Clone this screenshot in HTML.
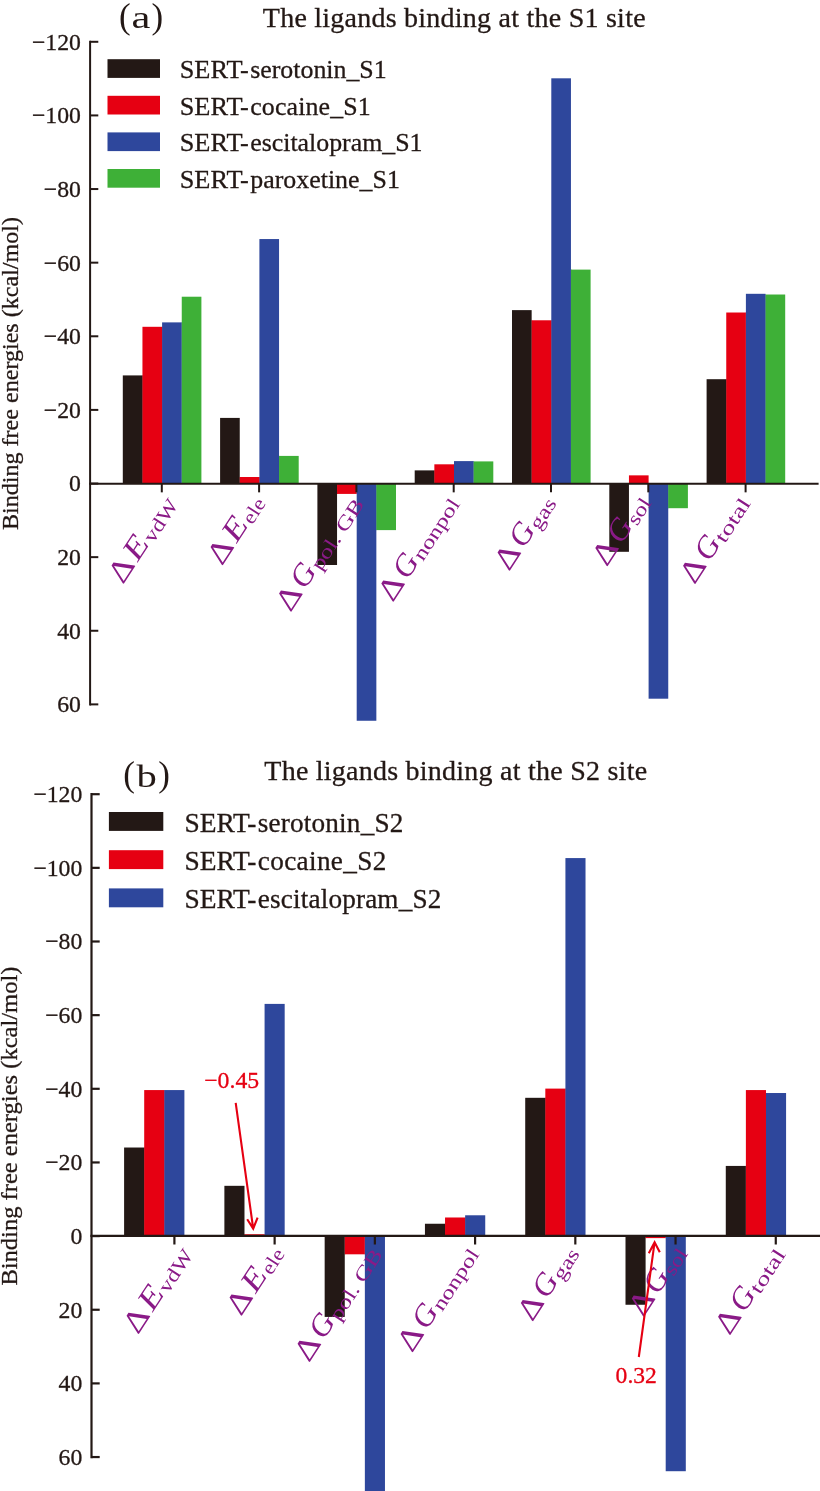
<!DOCTYPE html>
<html lang="en"><head><meta charset="utf-8"><title>Binding free energies</title>
<style>
html,body{margin:0;padding:0;background:#fff;}
svg{display:block;font-family:"Liberation Serif", "DejaVu Serif", serif;}
text.k{stroke:#231815;stroke-width:0.3px;}
</style></head><body>
<svg width="820" height="1491" viewBox="0 0 820 1491">
<rect width="820" height="1491" fill="#fff"/>
<rect x="122.80" y="375.41" width="19.65" height="108.34" fill="#231815"/>
<rect x="142.35" y="375.41" width="0.60" height="108.34" fill="#231815"/>
<rect x="142.45" y="326.80" width="19.65" height="156.95" fill="#e60012"/>
<rect x="162.00" y="326.80" width="0.60" height="156.95" fill="#e60012"/>
<rect x="162.10" y="322.38" width="19.65" height="161.37" fill="#2e479c"/>
<rect x="181.65" y="322.38" width="0.60" height="161.37" fill="#2e479c"/>
<rect x="181.75" y="296.72" width="19.65" height="187.03" fill="#3eb037"/>
<rect x="220.10" y="417.91" width="19.65" height="65.84" fill="#231815"/>
<rect x="239.65" y="477.01" width="0.60" height="6.74" fill="#231815"/>
<rect x="239.75" y="477.01" width="19.65" height="6.74" fill="#e60012"/>
<rect x="259.30" y="477.01" width="0.60" height="6.74" fill="#e60012"/>
<rect x="259.40" y="239.05" width="19.65" height="244.70" fill="#2e479c"/>
<rect x="278.95" y="455.91" width="0.60" height="27.84" fill="#2e479c"/>
<rect x="279.05" y="455.91" width="19.65" height="27.84" fill="#3eb037"/>
<rect x="317.40" y="483.75" width="19.65" height="81.24" fill="#231815"/>
<rect x="336.95" y="483.75" width="0.60" height="10.16" fill="#231815"/>
<rect x="337.05" y="483.75" width="19.65" height="10.16" fill="#e60012"/>
<rect x="356.60" y="483.75" width="0.60" height="10.16" fill="#e60012"/>
<rect x="356.70" y="483.75" width="19.65" height="237.01" fill="#2e479c"/>
<rect x="376.25" y="483.75" width="0.60" height="46.36" fill="#2e479c"/>
<rect x="376.35" y="483.75" width="19.65" height="46.36" fill="#3eb037"/>
<rect x="414.70" y="470.38" width="19.65" height="13.37" fill="#231815"/>
<rect x="434.25" y="470.38" width="0.60" height="13.37" fill="#231815"/>
<rect x="434.35" y="464.31" width="19.65" height="19.44" fill="#e60012"/>
<rect x="453.90" y="464.31" width="0.60" height="19.44" fill="#e60012"/>
<rect x="454.00" y="461.10" width="19.65" height="22.65" fill="#2e479c"/>
<rect x="473.55" y="461.40" width="0.60" height="22.35" fill="#2e479c"/>
<rect x="473.65" y="461.40" width="19.65" height="22.35" fill="#3eb037"/>
<rect x="512.00" y="310.12" width="19.65" height="173.63" fill="#231815"/>
<rect x="531.55" y="320.28" width="0.60" height="163.47" fill="#231815"/>
<rect x="531.65" y="320.28" width="19.65" height="163.47" fill="#e60012"/>
<rect x="551.20" y="320.28" width="0.60" height="163.47" fill="#e60012"/>
<rect x="551.30" y="78.31" width="19.65" height="405.44" fill="#2e479c"/>
<rect x="570.85" y="269.61" width="0.60" height="214.14" fill="#2e479c"/>
<rect x="570.95" y="269.61" width="19.65" height="214.14" fill="#3eb037"/>
<rect x="609.30" y="483.75" width="19.65" height="68.05" fill="#231815"/>
<rect x="628.95" y="475.35" width="19.65" height="8.40" fill="#e60012"/>
<rect x="648.60" y="483.75" width="19.65" height="214.95" fill="#2e479c"/>
<rect x="668.15" y="483.75" width="0.60" height="24.45" fill="#2e479c"/>
<rect x="668.25" y="483.75" width="19.65" height="24.45" fill="#3eb037"/>
<rect x="706.60" y="379.20" width="19.65" height="104.55" fill="#231815"/>
<rect x="726.15" y="379.20" width="0.60" height="104.55" fill="#231815"/>
<rect x="726.25" y="312.51" width="19.65" height="171.24" fill="#e60012"/>
<rect x="745.80" y="312.51" width="0.60" height="171.24" fill="#e60012"/>
<rect x="745.90" y="293.81" width="19.65" height="189.94" fill="#2e479c"/>
<rect x="765.45" y="294.51" width="0.60" height="189.24" fill="#2e479c"/>
<rect x="765.55" y="294.51" width="19.65" height="189.24" fill="#3eb037"/>
<path d="M90.10 40.80V705.38" stroke="#231815" stroke-width="2.0" fill="none"/>
<path d="M89.10 483.75H818.60" stroke="#231815" stroke-width="2.0" fill="none"/>
<path d="M90.10 41.80h8.2" stroke="#231815" stroke-width="2.0" fill="none"/>
<text x="31.98" y="49.70" font-size="23.7" textLength="48.92" lengthAdjust="spacingAndGlyphs" fill="#231815" class="k">−120</text>
<path d="M90.10 115.42h8.2" stroke="#231815" stroke-width="2.0" fill="none"/>
<text x="31.98" y="123.32" font-size="23.7" textLength="48.92" lengthAdjust="spacingAndGlyphs" fill="#231815" class="k">−100</text>
<path d="M90.10 189.04h8.2" stroke="#231815" stroke-width="2.0" fill="none"/>
<text x="43.83" y="196.94" font-size="23.7" textLength="37.07" lengthAdjust="spacingAndGlyphs" fill="#231815" class="k">−80</text>
<path d="M90.10 262.66h8.2" stroke="#231815" stroke-width="2.0" fill="none"/>
<text x="43.83" y="270.56" font-size="23.7" textLength="37.07" lengthAdjust="spacingAndGlyphs" fill="#231815" class="k">−60</text>
<path d="M90.10 336.28h8.2" stroke="#231815" stroke-width="2.0" fill="none"/>
<text x="43.83" y="344.18" font-size="23.7" textLength="37.07" lengthAdjust="spacingAndGlyphs" fill="#231815" class="k">−40</text>
<path d="M90.10 409.90h8.2" stroke="#231815" stroke-width="2.0" fill="none"/>
<text x="43.83" y="417.80" font-size="23.7" textLength="37.07" lengthAdjust="spacingAndGlyphs" fill="#231815" class="k">−20</text>
<path d="M90.10 483.52h8.2" stroke="#231815" stroke-width="2.0" fill="none"/>
<text x="69.05" y="491.42" font-size="23.7" textLength="11.85" lengthAdjust="spacingAndGlyphs" fill="#231815" class="k">0</text>
<path d="M90.10 557.14h8.2" stroke="#231815" stroke-width="2.0" fill="none"/>
<text x="57.20" y="565.04" font-size="23.7" textLength="23.70" lengthAdjust="spacingAndGlyphs" fill="#231815" class="k">20</text>
<path d="M90.10 630.76h8.2" stroke="#231815" stroke-width="2.0" fill="none"/>
<text x="57.20" y="638.66" font-size="23.7" textLength="23.70" lengthAdjust="spacingAndGlyphs" fill="#231815" class="k">40</text>
<path d="M90.10 704.38h8.2" stroke="#231815" stroke-width="2.0" fill="none"/>
<text x="57.20" y="712.28" font-size="23.7" textLength="23.70" lengthAdjust="spacingAndGlyphs" fill="#231815" class="k">60</text>
<path d="M161.80 483.75v8.6" stroke="#231815" stroke-width="2.0" fill="none"/>
<path d="M259.10 483.75v8.6" stroke="#231815" stroke-width="2.0" fill="none"/>
<path d="M356.40 483.75v8.6" stroke="#231815" stroke-width="2.0" fill="none"/>
<path d="M453.70 483.75v8.6" stroke="#231815" stroke-width="2.0" fill="none"/>
<path d="M551.00 483.75v8.6" stroke="#231815" stroke-width="2.0" fill="none"/>
<path d="M648.30 483.75v8.6" stroke="#231815" stroke-width="2.0" fill="none"/>
<path d="M745.60 483.75v8.6" stroke="#231815" stroke-width="2.0" fill="none"/>
<text transform="translate(18.20 530.00) rotate(-90)" font-size="23.9" textLength="313.0" lengthAdjust="spacingAndGlyphs" fill="#231815" class="k">Binding free energies (kcal/mol)</text>
<text x="262.80" y="26.80" font-size="28" textLength="382.8" fill="#231815" class="k">The ligands binding at the S1 site</text>
<text x="118.90" y="27.80" font-size="35" fill="#231815">(</text>
<text x="131.50" y="27.80" font-size="31" textLength="18.9" lengthAdjust="spacingAndGlyphs" fill="#231815">a</text>
<text x="151.50" y="27.80" font-size="35" fill="#231815">)</text>
<rect x="107.50" y="59.20" width="52.50" height="18.70" fill="#231815"/>
<text x="179.70" y="78.10" font-size="25.9" textLength="69.2" lengthAdjust="spacingAndGlyphs" fill="#231815" class="k">SERT-</text>
<text x="250.20" y="78.10" font-size="25.9" textLength="136.50" fill="#231815" class="k">serotonin_S1</text>
<rect x="107.50" y="95.80" width="52.50" height="18.70" fill="#e60012"/>
<text x="179.70" y="114.70" font-size="25.9" textLength="69.2" lengthAdjust="spacingAndGlyphs" fill="#231815" class="k">SERT-</text>
<text x="250.20" y="114.70" font-size="25.9" textLength="120.50" fill="#231815" class="k">cocaine_S1</text>
<rect x="107.50" y="132.40" width="52.50" height="18.70" fill="#2e479c"/>
<text x="179.70" y="151.30" font-size="25.9" textLength="69.2" lengthAdjust="spacingAndGlyphs" fill="#231815" class="k">SERT-</text>
<text x="250.20" y="151.30" font-size="25.9" textLength="172.30" fill="#231815" class="k">escitalopram_S1</text>
<rect x="107.50" y="169.00" width="52.50" height="18.70" fill="#3eb037"/>
<text x="179.70" y="187.90" font-size="25.9" textLength="69.2" lengthAdjust="spacingAndGlyphs" fill="#231815" class="k">SERT-</text>
<text x="250.20" y="187.90" font-size="25.9" textLength="149.70" fill="#231815" class="k">paroxetine_S1</text>
<g transform="translate(123.05 585.06) rotate(-57)" fill="#8a1a87" font-size="30.6"><text textLength="24.0" lengthAdjust="spacingAndGlyphs">Δ</text><text x="27.00" font-style="italic" textLength="22.9" lengthAdjust="spacingAndGlyphs">E</text><text x="50.80" y="3.0" font-size="19.8" textLength="47.5" lengthAdjust="spacingAndGlyphs">vdW</text></g>
<g transform="translate(222.00 566.40) rotate(-57)" fill="#8a1a87" font-size="30.6"><text textLength="24.0" lengthAdjust="spacingAndGlyphs">Δ</text><text x="27.00" font-style="italic" textLength="22.9" lengthAdjust="spacingAndGlyphs">E</text><text x="50.80" y="3.0" font-size="19.8" textLength="26.2" lengthAdjust="spacingAndGlyphs">ele</text></g>
<g transform="translate(290.40 612.90) rotate(-57)" fill="#8a1a87" font-size="30.6"><text textLength="24.0" lengthAdjust="spacingAndGlyphs">Δ</text><text x="27.00" font-style="italic" textLength="23.0" lengthAdjust="spacingAndGlyphs">G</text><text x="50.90" y="3.0" font-size="19.8" textLength="81.0" lengthAdjust="spacingAndGlyphs">pol. GB</text></g>
<g transform="translate(392.70 603.10) rotate(-57)" fill="#8a1a87" font-size="30.6"><text textLength="24.0" lengthAdjust="spacingAndGlyphs">Δ</text><text x="27.00" font-style="italic" textLength="23.0" lengthAdjust="spacingAndGlyphs">G</text><text x="50.90" y="3.0" font-size="19.8" textLength="69.3" lengthAdjust="spacingAndGlyphs">nonpol</text></g>
<g transform="translate(509.00 572.00) rotate(-57)" fill="#8a1a87" font-size="30.6"><text textLength="24.0" lengthAdjust="spacingAndGlyphs">Δ</text><text x="27.00" font-style="italic" textLength="23.0" lengthAdjust="spacingAndGlyphs">G</text><text x="50.90" y="3.0" font-size="19.8" textLength="32.9" lengthAdjust="spacingAndGlyphs">gas</text></g>
<g transform="translate(606.80 567.60) rotate(-57)" fill="#8a1a87" font-size="30.6"><text textLength="24.0" lengthAdjust="spacingAndGlyphs">Δ</text><text x="27.00" font-style="italic" textLength="23.0" lengthAdjust="spacingAndGlyphs">G</text><text x="50.90" y="3.0" font-size="19.8" textLength="27.8" lengthAdjust="spacingAndGlyphs">sol</text></g>
<g transform="translate(694.60 585.20) rotate(-57)" fill="#8a1a87" font-size="30.6"><text textLength="24.0" lengthAdjust="spacingAndGlyphs">Δ</text><text x="27.00" font-style="italic" textLength="23.0" lengthAdjust="spacingAndGlyphs">G</text><text x="50.90" y="3.0" font-size="19.8" textLength="48.6" lengthAdjust="spacingAndGlyphs">total</text></g>
<rect x="124.10" y="1147.52" width="20.10" height="88.38" fill="#231815"/>
<rect x="144.10" y="1147.52" width="0.60" height="88.38" fill="#231815"/>
<rect x="144.20" y="1090.07" width="20.10" height="145.83" fill="#e60012"/>
<rect x="164.20" y="1090.07" width="0.60" height="145.83" fill="#e60012"/>
<rect x="164.30" y="1090.07" width="20.10" height="145.83" fill="#2e479c"/>
<rect x="224.38" y="1185.82" width="20.10" height="50.08" fill="#231815"/>
<rect x="244.38" y="1234.24" width="0.60" height="1.66" fill="#231815"/>
<rect x="244.48" y="1234.24" width="20.10" height="1.66" fill="#e60012"/>
<rect x="264.48" y="1234.24" width="0.60" height="1.66" fill="#e60012"/>
<rect x="264.58" y="1003.90" width="20.10" height="232.00" fill="#2e479c"/>
<rect x="324.66" y="1235.90" width="20.10" height="81.02" fill="#231815"/>
<rect x="344.66" y="1235.90" width="0.60" height="18.41" fill="#231815"/>
<rect x="344.76" y="1235.90" width="20.10" height="18.41" fill="#e60012"/>
<rect x="364.76" y="1235.90" width="0.60" height="18.41" fill="#e60012"/>
<rect x="364.86" y="1235.90" width="20.10" height="276.19" fill="#2e479c"/>
<rect x="424.94" y="1223.75" width="20.10" height="12.15" fill="#231815"/>
<rect x="444.94" y="1223.75" width="0.60" height="12.15" fill="#231815"/>
<rect x="445.04" y="1217.49" width="20.10" height="18.41" fill="#e60012"/>
<rect x="465.04" y="1217.49" width="0.60" height="18.41" fill="#e60012"/>
<rect x="465.14" y="1215.28" width="20.10" height="20.62" fill="#2e479c"/>
<rect x="525.22" y="1097.81" width="20.10" height="138.09" fill="#231815"/>
<rect x="545.22" y="1097.81" width="0.60" height="138.09" fill="#231815"/>
<rect x="545.32" y="1088.60" width="20.10" height="147.30" fill="#e60012"/>
<rect x="565.32" y="1088.60" width="0.60" height="147.30" fill="#e60012"/>
<rect x="565.42" y="858.08" width="20.10" height="377.82" fill="#2e479c"/>
<rect x="625.50" y="1235.90" width="20.10" height="68.86" fill="#231815"/>
<rect x="645.50" y="1235.90" width="0.60" height="2.21" fill="#231815"/>
<rect x="645.60" y="1235.90" width="20.10" height="2.21" fill="#e60012"/>
<rect x="665.60" y="1235.90" width="0.60" height="2.21" fill="#e60012"/>
<rect x="665.70" y="1235.90" width="20.10" height="235.31" fill="#2e479c"/>
<rect x="725.78" y="1165.93" width="20.10" height="69.97" fill="#231815"/>
<rect x="745.78" y="1165.93" width="0.60" height="69.97" fill="#231815"/>
<rect x="745.88" y="1090.07" width="20.10" height="145.83" fill="#e60012"/>
<rect x="765.88" y="1093.02" width="0.60" height="142.88" fill="#e60012"/>
<rect x="765.98" y="1093.02" width="20.10" height="142.88" fill="#2e479c"/>
<path d="M91.50 793.10V1458.15" stroke="#231815" stroke-width="2.2" fill="none"/>
<path d="M90.40 1235.90H820.00" stroke="#231815" stroke-width="2.2" fill="none"/>
<path d="M91.50 794.20h8.2" stroke="#231815" stroke-width="2.2" fill="none"/>
<text x="33.38" y="802.10" font-size="23.7" textLength="48.92" lengthAdjust="spacingAndGlyphs" fill="#231815" class="k">−120</text>
<path d="M91.50 867.85h8.2" stroke="#231815" stroke-width="2.2" fill="none"/>
<text x="33.38" y="875.75" font-size="23.7" textLength="48.92" lengthAdjust="spacingAndGlyphs" fill="#231815" class="k">−100</text>
<path d="M91.50 941.50h8.2" stroke="#231815" stroke-width="2.2" fill="none"/>
<text x="45.23" y="949.40" font-size="23.7" textLength="37.07" lengthAdjust="spacingAndGlyphs" fill="#231815" class="k">−80</text>
<path d="M91.50 1015.15h8.2" stroke="#231815" stroke-width="2.2" fill="none"/>
<text x="45.23" y="1023.05" font-size="23.7" textLength="37.07" lengthAdjust="spacingAndGlyphs" fill="#231815" class="k">−60</text>
<path d="M91.50 1088.80h8.2" stroke="#231815" stroke-width="2.2" fill="none"/>
<text x="45.23" y="1096.70" font-size="23.7" textLength="37.07" lengthAdjust="spacingAndGlyphs" fill="#231815" class="k">−40</text>
<path d="M91.50 1162.45h8.2" stroke="#231815" stroke-width="2.2" fill="none"/>
<text x="45.23" y="1170.35" font-size="23.7" textLength="37.07" lengthAdjust="spacingAndGlyphs" fill="#231815" class="k">−20</text>
<path d="M91.50 1236.10h8.2" stroke="#231815" stroke-width="2.2" fill="none"/>
<text x="70.45" y="1244.00" font-size="23.7" textLength="11.85" lengthAdjust="spacingAndGlyphs" fill="#231815" class="k">0</text>
<path d="M91.50 1309.75h8.2" stroke="#231815" stroke-width="2.2" fill="none"/>
<text x="58.60" y="1317.65" font-size="23.7" textLength="23.70" lengthAdjust="spacingAndGlyphs" fill="#231815" class="k">20</text>
<path d="M91.50 1383.40h8.2" stroke="#231815" stroke-width="2.2" fill="none"/>
<text x="58.60" y="1391.30" font-size="23.7" textLength="23.70" lengthAdjust="spacingAndGlyphs" fill="#231815" class="k">40</text>
<path d="M91.50 1457.05h8.2" stroke="#231815" stroke-width="2.2" fill="none"/>
<text x="58.60" y="1464.95" font-size="23.7" textLength="23.70" lengthAdjust="spacingAndGlyphs" fill="#231815" class="k">60</text>
<path d="M174.40 1235.90v8.6" stroke="#231815" stroke-width="2.2" fill="none"/>
<path d="M274.63 1235.90v8.6" stroke="#231815" stroke-width="2.2" fill="none"/>
<path d="M374.86 1235.90v8.6" stroke="#231815" stroke-width="2.2" fill="none"/>
<path d="M475.09 1235.90v8.6" stroke="#231815" stroke-width="2.2" fill="none"/>
<path d="M575.32 1235.90v8.6" stroke="#231815" stroke-width="2.2" fill="none"/>
<path d="M675.55 1235.90v8.6" stroke="#231815" stroke-width="2.2" fill="none"/>
<path d="M775.78 1235.90v8.6" stroke="#231815" stroke-width="2.2" fill="none"/>
<text transform="translate(17.10 1285.60) rotate(-90)" font-size="23.4" textLength="319.0" lengthAdjust="spacingAndGlyphs" fill="#231815" class="k">Binding free energies (kcal/mol)</text>
<text x="264.30" y="779.50" font-size="28" textLength="382.8" fill="#231815" class="k">The ligands binding at the S2 site</text>
<text x="123.30" y="786.00" font-size="35" fill="#231815">(</text>
<text x="136.40" y="786.90" font-size="31" textLength="20.3" lengthAdjust="spacingAndGlyphs" fill="#231815">b</text>
<text x="158.30" y="786.00" font-size="35" fill="#231815">)</text>
<rect x="108.90" y="812.00" width="54.40" height="18.90" fill="#231815"/>
<text x="184.40" y="831.60" font-size="27.2" textLength="72.0" lengthAdjust="spacingAndGlyphs" fill="#231815" class="k">SERT-</text>
<text x="257.80" y="831.60" font-size="27.2" textLength="145.50" fill="#231815" class="k">serotonin_S2</text>
<rect x="108.90" y="850.20" width="54.40" height="18.90" fill="#e60012"/>
<text x="184.40" y="869.80" font-size="27.2" textLength="72.0" lengthAdjust="spacingAndGlyphs" fill="#231815" class="k">SERT-</text>
<text x="257.80" y="869.80" font-size="27.2" textLength="128.50" fill="#231815" class="k">cocaine_S2</text>
<rect x="108.90" y="888.40" width="54.40" height="18.90" fill="#2e479c"/>
<text x="184.40" y="908.00" font-size="27.2" textLength="72.0" lengthAdjust="spacingAndGlyphs" fill="#231815" class="k">SERT-</text>
<text x="257.80" y="908.00" font-size="27.2" textLength="183.50" fill="#231815" class="k">escitalopram_S2</text>
<g transform="translate(138.00 1335.20) rotate(-57)" fill="#8a1a87" font-size="30.6"><text textLength="24.0" lengthAdjust="spacingAndGlyphs">Δ</text><text x="27.00" font-style="italic" textLength="22.9" lengthAdjust="spacingAndGlyphs">E</text><text x="50.80" y="3.0" font-size="19.8" textLength="47.5" lengthAdjust="spacingAndGlyphs">vdW</text></g>
<g transform="translate(241.00 1316.90) rotate(-57)" fill="#8a1a87" font-size="30.6"><text textLength="24.0" lengthAdjust="spacingAndGlyphs">Δ</text><text x="27.00" font-style="italic" textLength="22.9" lengthAdjust="spacingAndGlyphs">E</text><text x="50.80" y="3.0" font-size="19.8" textLength="26.2" lengthAdjust="spacingAndGlyphs">ele</text></g>
<g transform="translate(309.00 1363.20) rotate(-57)" fill="#8a1a87" font-size="30.6"><text textLength="24.0" lengthAdjust="spacingAndGlyphs">Δ</text><text x="27.00" font-style="italic" textLength="23.0" lengthAdjust="spacingAndGlyphs">G</text><text x="50.90" y="3.0" font-size="19.8" textLength="81.0" lengthAdjust="spacingAndGlyphs">pol. GB</text></g>
<g transform="translate(412.00 1353.40) rotate(-57)" fill="#8a1a87" font-size="30.6"><text textLength="24.0" lengthAdjust="spacingAndGlyphs">Δ</text><text x="27.00" font-style="italic" textLength="23.0" lengthAdjust="spacingAndGlyphs">G</text><text x="50.90" y="3.0" font-size="19.8" textLength="69.3" lengthAdjust="spacingAndGlyphs">nonpol</text></g>
<g transform="translate(532.20 1322.50) rotate(-57)" fill="#8a1a87" font-size="30.6"><text textLength="24.0" lengthAdjust="spacingAndGlyphs">Δ</text><text x="27.00" font-style="italic" textLength="23.0" lengthAdjust="spacingAndGlyphs">G</text><text x="50.90" y="3.0" font-size="19.8" textLength="32.9" lengthAdjust="spacingAndGlyphs">gas</text></g>
<g transform="translate(643.20 1318.10) rotate(-57)" fill="#8a1a87" font-size="30.6"><text textLength="24.0" lengthAdjust="spacingAndGlyphs">Δ</text><text x="27.00" font-style="italic" textLength="23.0" lengthAdjust="spacingAndGlyphs">G</text><text x="50.90" y="3.0" font-size="19.8" textLength="27.8" lengthAdjust="spacingAndGlyphs">sol</text></g>
<g transform="translate(729.60 1336.20) rotate(-57)" fill="#8a1a87" font-size="30.6"><text textLength="24.0" lengthAdjust="spacingAndGlyphs">Δ</text><text x="27.00" font-style="italic" textLength="23.0" lengthAdjust="spacingAndGlyphs">G</text><text x="50.90" y="3.0" font-size="19.8" textLength="48.6" lengthAdjust="spacingAndGlyphs">total</text></g>
<text x="204.2" y="1088.3" font-size="23.6" textLength="55.0" lengthAdjust="spacingAndGlyphs" fill="#e60012" stroke="#e60012" stroke-width="0.3">−0.45</text>
<path d="M235.7 1102.9L253.2 1228.6M247.2 1219.2L253.2 1228.6L257.6 1217.6" stroke="#e60012" stroke-width="2.1" fill="none"/>
<text x="615.6" y="1383.3" font-size="23.6" fill="#e60012" stroke="#e60012" stroke-width="0.3">0.32</text>
<path d="M638.8 1357L654.6 1242.2M648.8 1253.3L654.6 1242.2L659.8 1252.2" stroke="#e60012" stroke-width="2.1" fill="none"/>
</svg>
</body></html>
